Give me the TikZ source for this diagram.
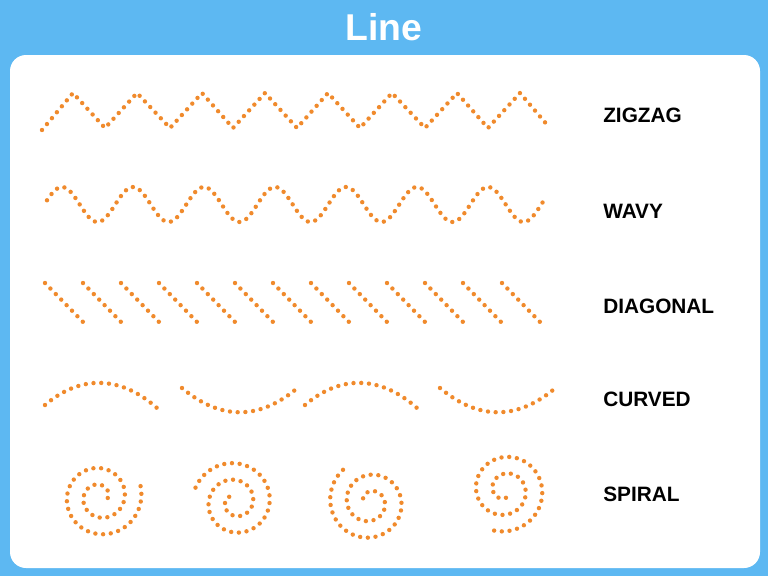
\documentclass[tikz,border=0pt]{standalone}
\usepackage{fontspec}
\setmainfont{Liberation Sans}
\definecolor{bgblue}{HTML}{5DB8F2}
\definecolor{dotor}{HTML}{F08A2C}
\begin{document}
\begin{tikzpicture}[x=0.75pt,y=-0.75pt,
  dots/.style={dotor,line width=3.3pt,line cap=round,dash pattern=on 0pt off 5.8pt},
  lbl/.style={anchor=west,font=\fontsize{15.6}{17}\selectfont\bfseries,inner sep=0pt}]
\fill[bgblue] (0,0) rectangle (768,576);
\useasboundingbox (0,0) rectangle (768,576);
\fill[white,rounded corners=12pt] (10,55) rectangle (760,568);
\node[white,font=\fontsize{28}{30}\selectfont\bfseries] (title) at (384,27) {Line};
% zigzag
\draw[dots] (42,130) -- (73,93) -- (105,128) -- (137,93) -- (170,128) -- (202,93) -- (233,128) -- (265,93) -- (297,128) -- (328,93) -- (360,128) -- (392,93) -- (425,128) -- (457,93) -- (488,128) -- (520,93) -- (549,127);
% wavy
\draw[dots] plot[domain=47:546,samples=300] (\x,{204.5-17.5*sin(5.0704*(\x-44.25))});
% diagonal
\foreach \xx in {45,83,121,159,197,235,273,311,349,387,425,463,502}
  \draw[dots] (\xx,283) -- (\xx+40,324);
% curved
\draw[dots] (45,405) .. controls (80,375) and (120,375) .. (157,408);
\draw[dots] (182,388) .. controls (220,420) and (258,420) .. (295,390);
\draw[dots] (305,405) .. controls (340,375) and (380,375) .. (417,408);
\draw[dots] (440,388) .. controls (478,420) and (516,420) .. (553,390);
% spirals
\foreach \cx/\cy/\a/\d in {100/497/-15/1, 235/502/-160/1, 370/502/-130/-1, 505/490/105/-1}
  \draw[dots] plot[domain=0:760,samples=300] ({\cx+(42-\x/760*35)*cos(\a+\d*\x)},{\cy+(42-\x/760*35)*sin(\a+\d*\x)});
\node[lbl] (l1) at (603,115) {ZIGZAG};
\node[lbl] (l2) at (603,211) {WAVY};
\node[lbl] (l3) at (603,306) {DIAGONAL};
\node[lbl] (l4) at (603,399) {CURVED};
\node[lbl] (l5) at (603,494) {SPIRAL};
\end{tikzpicture}
\end{document}
